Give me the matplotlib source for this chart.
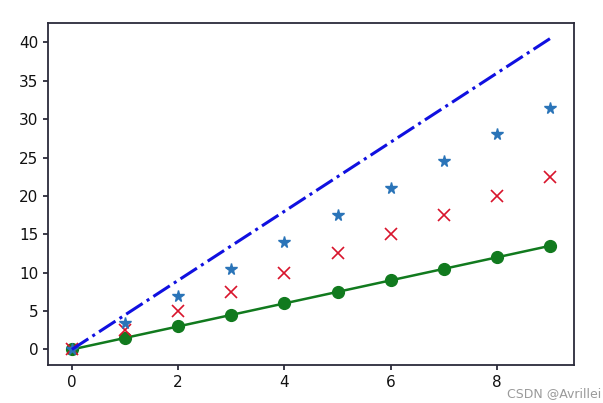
import matplotlib
matplotlib.use('Agg')
import matplotlib.pyplot as plt

# datos
x = [0, 1, 2, 3, 4, 5, 6, 7, 8, 9]
y_verde = [0, 1.5, 3, 4.5, 6, 7.5, 9, 10.5, 12, 13.5]
y_rojo = [0, 2.5, 5, 7.5, 10, 12.5, 15, 17.5, 20, 22.5]
y_estrella = [0, 3.5, 7, 10.5, 14, 17.5, 21, 24.5, 28, 31.5]
y_azul = [0, 4.5, 9, 13.5, 18, 22.5, 27, 31.5, 36, 40.5]

fig = plt.figure(figsize=(6.03, 4.03), dpi=100)
ax = fig.add_axes([0.0796, 0.0943, 0.8724, 0.8487])

ax.plot(x, y_verde, 'o-', color='#117a1e', markersize=8.5, linewidth=1.8)
ax.plot(x, y_rojo, 'x', color='#d8142c', markersize=8, markeredgewidth=1.2)
ax.plot(x, y_estrella, '*', color='#2a74b8', markersize=8.5)
ax.plot(x, y_azul, '-.', color='#1010e0', linewidth=2.2)

for s in ax.spines.values():
    s.set_color('#2b2b3a')
    s.set_linewidth(1.3)
ax.tick_params(colors='#2b2b3a', labelsize=11, width=1.3)
for lb in ax.get_xticklabels() + ax.get_yticklabels():
    lb.set_color('#111111')

# marca de agua
fig.text(0.997, 0.008, 'CSDN @Avrillei', ha='right', va='bottom', fontsize=9, color='#9a9a9a')

fig.savefig('out.png', dpi=100)
